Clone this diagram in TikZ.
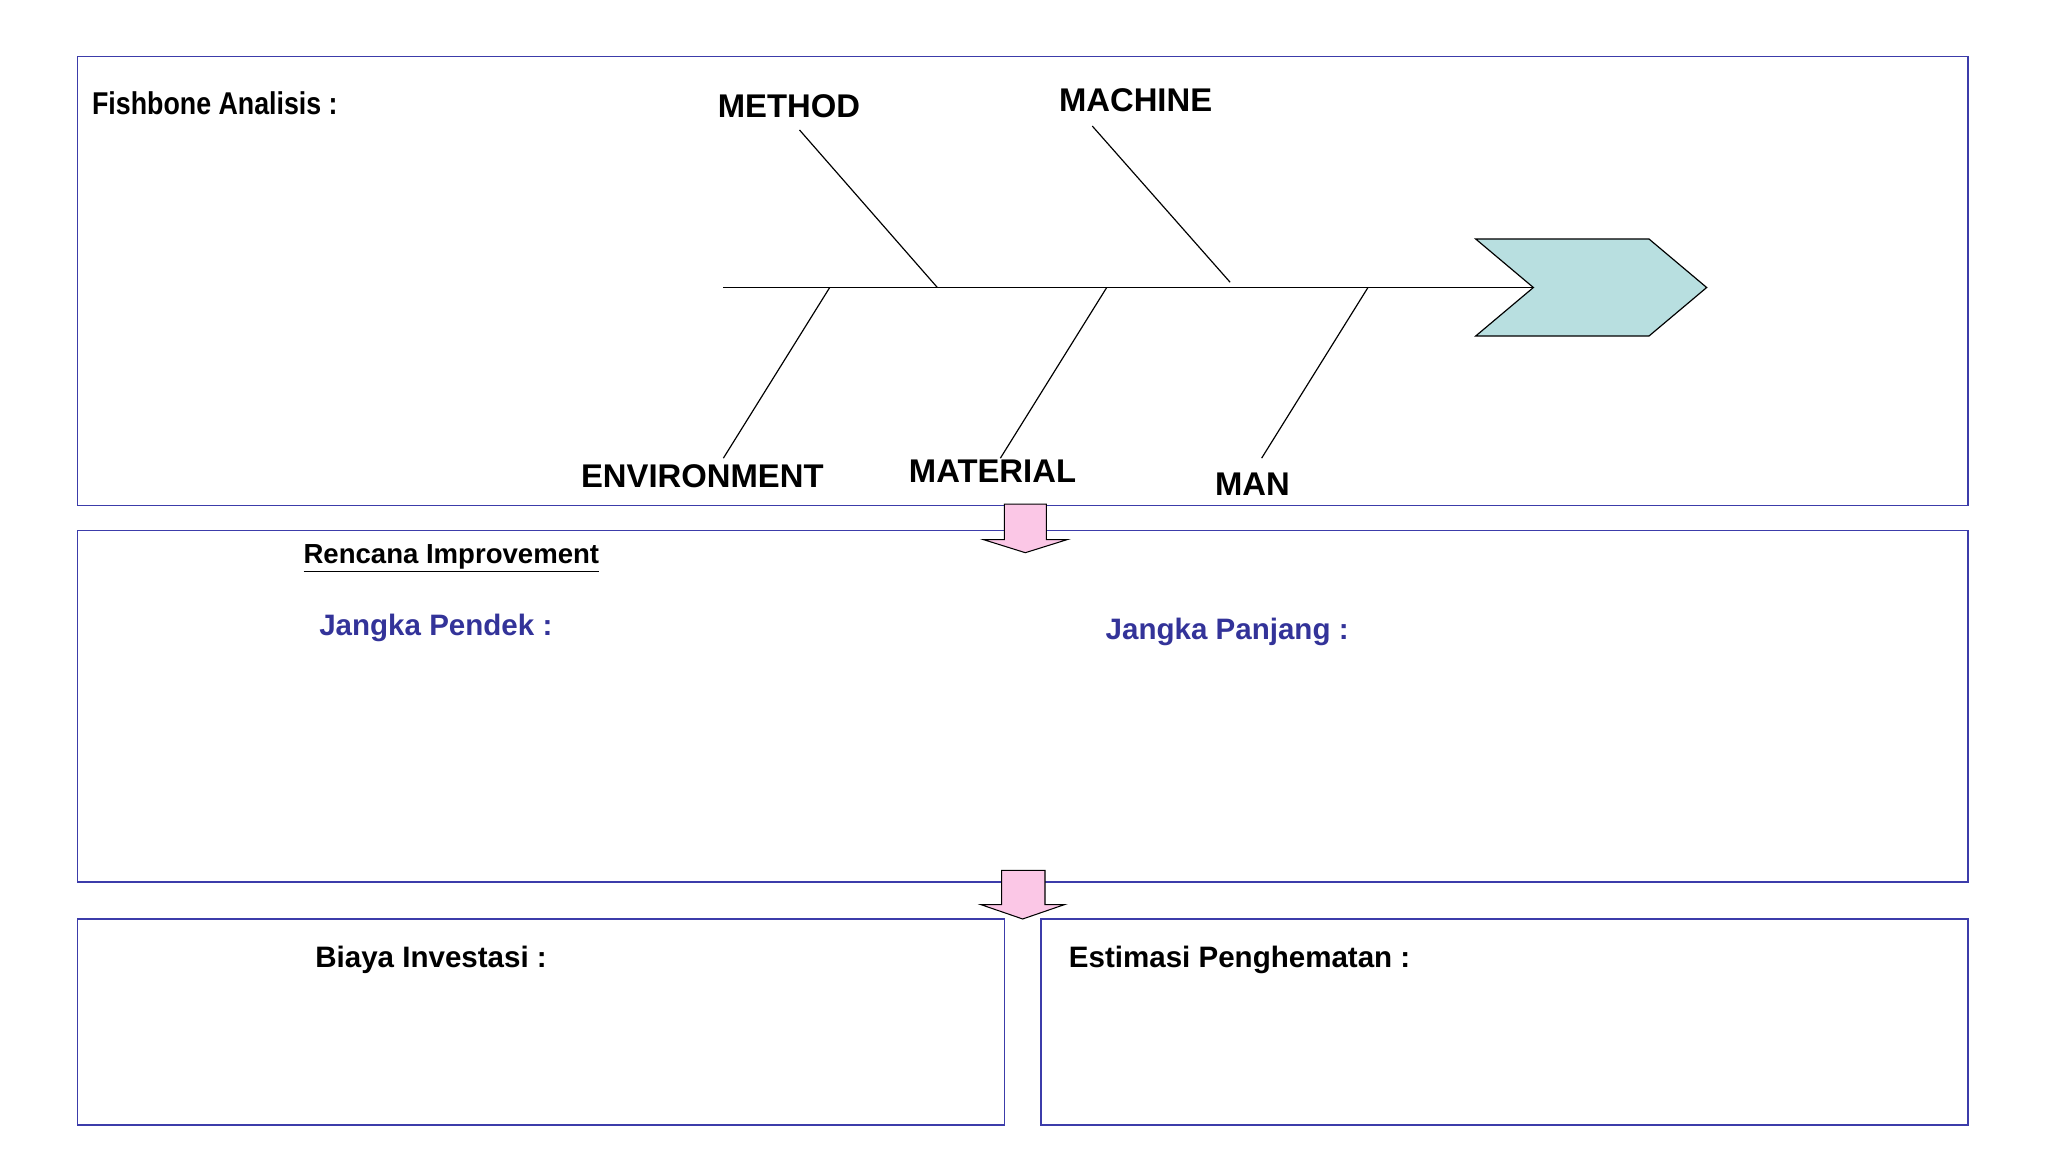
\documentclass[tikz,border=0pt]{standalone}
\usepackage{fontspec}
\setmainfont{Liberation Sans}
\definecolor{panelblue}{RGB}{60,60,170}
\definecolor{subblue}{RGB}{51,51,153}
\begin{document}
\begin{tikzpicture}[x=1pt,y=-1pt,
  panel/.style={draw=panelblue, line width=1.2pt},
  bone/.style={draw=black, line width=0.9pt},
  cat/.style={font=\bfseries\fontsize{25}{28}\selectfont, inner sep=0pt},
  sub/.style={font=\bfseries\fontsize{22.5}{26}\selectfont, text=subblue, anchor=west, inner sep=0pt},
  lab/.style={font=\bfseries\fontsize{22.5}{26}\selectfont, anchor=west, inner sep=0pt},
  darrow/.style={draw=black, fill=magenta!22, line width=0.8pt}]
\useasboundingbox (0,0) rectangle (1560,877.5);
\draw[panel] (59,43) rectangle (1499,385);
\draw[panel] (59,404) rectangle (1499,672);
\draw[panel] (59,700) rectangle (765,857);
\draw[panel] (793,700) rectangle (1499,857);
% fishbone
\coordinate (tail) at (551,219);
\coordinate (notch) at (1168,219);
\draw[bone] (tail) -- (notch);
\draw[bone, fill={rgb,255:red,184;green,223;blue,224}] (1124,182) -- (1256,182) -- (1300,219) -- (1256,256) -- (1124,256) -- (notch) -- cycle;
\node[cat] (method) at (601,81) {METHOD};
\node[cat] (machine) at (865,76) {MACHINE};
\node[cat] (env) at (535,363) {ENVIRONMENT};
\node[cat] (mat) at (756,359) {MATERIAL};
\node[cat] (man) at (954,369) {MAN};
\coordinate (m1) at (609,99); \coordinate (m2) at (714,219);
\coordinate (c1) at (832,96); \coordinate (c2) at (937,215);
\coordinate (e1) at (632,219); \coordinate (e2) at (551,349);
\coordinate (t1) at (843,219); \coordinate (t2) at (762,349);
\coordinate (a1) at (1042,219); \coordinate (a2) at (961,349);
\draw[bone] (m1) -- (m2);
\draw[bone] (c1) -- (c2);
\draw[bone] (e1) -- (e2);
\draw[bone] (t1) -- (t2);
\draw[bone] (a1) -- (a2);
\node[anchor=west, inner sep=0pt, font=\bfseries\fontsize{24}{28}\selectfont, xscale=0.85] (fa) at (70,79) {Fishbone Analisis :};
% arrows
\draw[darrow] (765,384) -- (797,384) -- (797,411) -- (813,411) -- (781,421) -- (749,411) -- (765,411) -- cycle;
\draw[darrow] (763,663) -- (796,663) -- (796,689) -- (811,689) -- (779,700) -- (747,689) -- (763,689) -- cycle;
\node[lab, font=\bfseries\fontsize{21}{24}\selectfont] (ri) at (231,425) {\underline{Rencana Improvement}};
\node[sub] (jp) at (243,478) {Jangka Pendek :};
\node[sub] (jl) at (842,481) {Jangka Panjang :};
\node[lab] (bi) at (240,731) {Biaya Investasi :};
\node[lab] (ep) at (814,731) {Estimasi Penghematan :};
\end{tikzpicture}
\end{document}
